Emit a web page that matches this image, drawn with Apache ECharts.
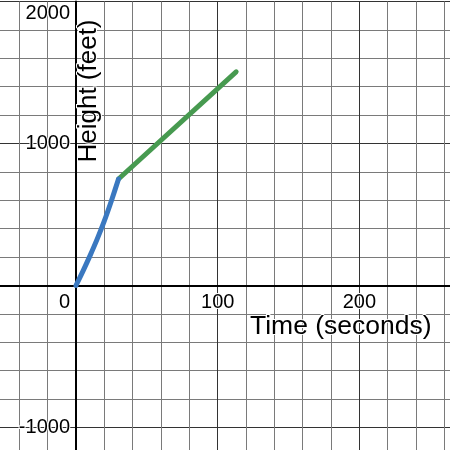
<!DOCTYPE html>
<html>
<head>
<meta charset="utf-8">
<script src="https://cdn.jsdelivr.net/npm/echarts@6/dist/echarts.min.js"></script>
<style>
html,body{margin:0;padding:0;background:#fff;}
#c{width:450px;height:450px;}
</style>
</head>
<body>
<div id="c"></div>
<script>
// Data
var phase1Time = [0, 5, 10, 15, 20, 25, 30];
var phase1Height = [0, 103, 212, 328, 455, 597, 750];
var phase2Time = [30, 113];
var phase2Height = [750, 1505];
var xTickLabels = [100, 200];
var yTickLabels = [2000, 1000, -1000];
var xTitle = 'Time (seconds)';
var yTitle = 'Height (feet)';

var FONT = 'Liberation Sans, Arial, sans-serif';
function pairs(xs, ys){ return xs.map(function(x,i){ return [x, ys[i]]; }); }

var chart = echarts.init(document.getElementById('c'), null, {renderer:'canvas'});
chart.setOption({
  animation: false,
  backgroundColor: '#fff',
  grid: { left: -65.7, right: -51.1, top: 1.5, bottom: -119.5, containLabel: false, outerBoundsMode: 'none' },
  xAxis: {
    type: 'value', min: -100, max: 300, interval: 100, position: 'bottom', offset: -284,
    axisLine: { onZero: false, lineStyle: { color: '#000', width: 2 } },
    axisTick: { show: false },
    minorTick: { show: false, splitNumber: 5 },
    splitLine: { show: true, lineStyle: { color: '#333', width: 1 } },
    minorSplitLine: { show: true, lineStyle: { color: '#7a7a7a', width: 1 } },
    axisLabel: {
      show: true, margin: 7, fontSize: 20, color: '#000', fontFamily: FONT,
      textBorderColor: '#fff', textBorderWidth: 2,
      showMinLabel: true, showMaxLabel: true,
      formatter: function(v){
        if (v === 0) return '{z|0}';
        return xTickLabels.indexOf(v) >= 0 ? String(v) : '';
      },
      rich: { z: { fontSize: 20, fontFamily: FONT, color: '#000', padding: [0, 23, 0, 0], textBorderColor: '#fff', textBorderWidth: 2 } }
    }
  },
  yAxis: {
    type: 'value', min: -2000, max: 2000, interval: 1000, position: 'left', offset: -141.7,
    axisLine: { onZero: false, lineStyle: { color: '#000', width: 2 } },
    axisTick: { show: false },
    minorTick: { show: false, splitNumber: 5 },
    splitLine: { show: true, lineStyle: { color: '#333', width: 1 } },
    minorSplitLine: { show: true, lineStyle: { color: '#7a7a7a', width: 1 } },
    axisLabel: {
      show: true, margin: 6, fontSize: 20, color: '#000', fontFamily: FONT,
      textBorderColor: '#fff', textBorderWidth: 2,
      showMinLabel: true, showMaxLabel: true,
      formatter: function(v){
        if (v === 2000) return '{t|2000}';
        return yTickLabels.indexOf(v) >= 0 ? String(v) : '';
      },
      rich: { t: { fontSize: 20, fontFamily: FONT, color: '#000', padding: [24, 0, 0, 0], textBorderColor: '#fff', textBorderWidth: 2 } }
    }
  },
  series: [
    {
      type: 'line', data: pairs(phase1Time, phase1Height), showSymbol: false, smooth: 0.2,
      lineStyle: { color: '#3a78c0', width: 5, cap: 'round', join: 'round' }, z: 5
    },
    {
      type: 'line', data: pairs(phase2Time, phase2Height), showSymbol: false,
      lineStyle: { color: '#479a50', width: 5, cap: 'round', join: 'round' }, z: 4
    }
  ],
  graphic: [
    { type: 'text', left: 249, top: 312.5, z: 100,
      style: { text: xTitle, fontSize: 26.5, fontFamily: FONT, fill: '#000', stroke: '#fff', lineWidth: 2 } },
    { type: 'text', x: 88.5, y: 91, rotation: Math.PI/2, z: 100,
      style: { text: yTitle, fontSize: 26, fontFamily: FONT, fill: '#000', align: 'center', verticalAlign: 'middle', stroke: '#fff', lineWidth: 2 } }
  ]
});
</script>
</body>
</html>
